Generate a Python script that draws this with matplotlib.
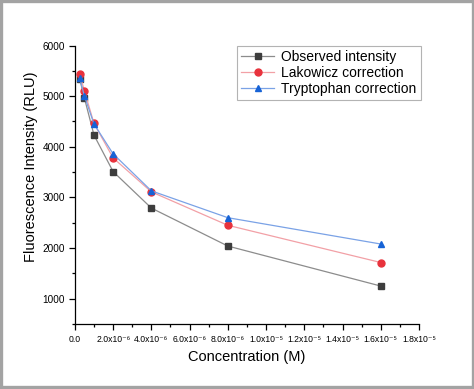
import matplotlib
matplotlib.use("Agg")
import matplotlib.pyplot as plt
from matplotlib.ticker import FuncFormatter, MultipleLocator
from matplotlib.patches import Rectangle

conc = [2.5e-7, 5e-7, 1e-6, 2e-6, 4e-6, 8e-6, 1.6e-5]
observed = [5340, 4960, 4230, 3510, 2790, 2040, 1250]
lakowicz = [5440, 5100, 4460, 3780, 3110, 2450, 1715]
tryptophan = [5360, 5000, 4450, 3860, 3130, 2600, 2080]

plt.rcParams['font.family'] = ['Liberation Sans', 'DejaVu Sans']

fig = plt.figure(figsize=(4.74, 3.89), dpi=100)
ax = fig.add_axes([0.158, 0.167, 0.726, 0.716])

ax.plot(conc, observed, '-', color='#8c8c8c', lw=0.9, marker='s', ms=4.2,
        mfc='#3d3d3d', mec='#3d3d3d', label='Observed intensity')
ax.plot(conc, lakowicz, '-', color='#f2a0a6', lw=0.9, marker='o', ms=5,
        mfc='#e8323c', mec='#e8323c', label='Lakowicz correction')
ax.plot(conc, tryptophan, '-', color='#7aa2e6', lw=0.9, marker='^', ms=5,
        mfc='#1763d6', mec='#1763d6', label='Tryptophan correction')

ax.set_xlim(0, 1.8e-5)
ax.set_ylim(500, 6000)
ax.xaxis.set_major_locator(MultipleLocator(2e-6))
ax.xaxis.set_minor_locator(MultipleLocator(1e-6))
ax.yaxis.set_major_locator(MultipleLocator(1000))
ax.yaxis.set_minor_locator(MultipleLocator(500))

SUP = {'-': '\u207b', '5': '\u2075', '6': '\u2076'}

def xfmt(v, pos):
    if abs(v) < 1e-12:
        return '0.0'
    exp = -6 if v < 9.99e-6 else -5
    mant = v / 10**exp
    sup = ''.join(SUP[c] for c in str(exp))
    return '%.1fx10%s' % (mant, sup)

ax.xaxis.set_major_formatter(FuncFormatter(xfmt))
ax.yaxis.set_major_formatter(FuncFormatter(lambda v, p: '%d' % v))

for s in ['top', 'right']:
    ax.spines[s].set_visible(False)
for s in ['left', 'bottom']:
    ax.spines[s].set_linewidth(0.9)

ax.tick_params(which='major', direction='out', length=4, width=0.9, pad=3)
ax.tick_params(which='minor', direction='out', length=2.2, width=0.9)
ax.tick_params(axis='y', labelsize=7.2)
ax.tick_params(axis='x', labelsize=6.2, pad=4)

ax.set_xlabel('Concentration (M)', fontsize=10.5)
ax.set_ylabel('Fluorescence Intensity (RLU)', fontsize=10.5)
ax.xaxis.set_label_coords(0.5, -0.095)
ax.yaxis.set_label_coords(-0.108, 0.564)

leg = ax.legend(loc='upper right', bbox_to_anchor=(1.005, 1.0), fontsize=10,
                frameon=True, fancybox=False, edgecolor='#a0a0a0',
                handlelength=2.4, handletextpad=0.5, borderpad=0.3,
                labelspacing=0.15, borderaxespad=0.0)
leg.get_frame().set_linewidth(0.8)

fig.patches.append(Rectangle((0.003, 0.004), 0.994, 0.993, transform=fig.transFigure,
                             fill=False, edgecolor='#a3a3a3', linewidth=2.4))

fig.savefig('out.png', dpi=100)
